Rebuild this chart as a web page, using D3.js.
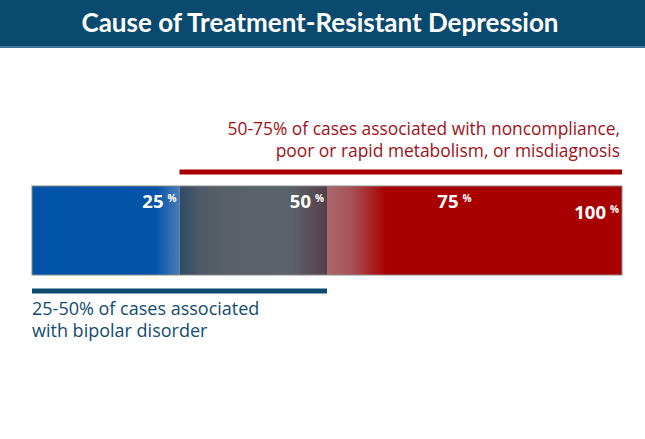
<!DOCTYPE html>
<html>
<head>
  <meta charset="utf-8">
  <title>Cause of Treatment-Resistant Depression</title>
  <script src="https://d3js.org/d3.v7.min.js"></script>
  <style>
    body { margin: 0; background: #fff; }
  </style>
</head>
<body>
  <svg id="chart"></svg>
  <script>
    // chart values
    const titleText = "Cause of Treatment-Resistant Depression";
    const segStart = [0, 25, 50];
    const segEnd = [25, 50, 100];
    const tickValues = [25, 50, 75, 100];
    const tickLabels = ["25", "50", "75", "100"];
    const bracketFrom = [25, 0];
    const bracketTo = [100, 50];
    const noteLines = [
      ["50-75% of cases associated with noncompliance,", "poor or rapid metabolism, or misdiagnosis"],
      ["25-50% of cases associated", "with bipolar disorder"]
    ];

    const width = 645, height = 439;
    const svg = d3.select("#chart").attr("width", width).attr("height", height);

    // title banner
    svg.append("rect").attr("x", 0).attr("y", 0).attr("width", width).attr("height", 47).attr("fill", "#0b4a6f");
    svg.append("rect").attr("x", 0).attr("y", 46).attr("width", width).attr("height", 2).attr("fill", "#3f7598");
    svg.append("text")
      .attr("x", 320).attr("y", 32)
      .attr("text-anchor", "middle")
      .attr("font-family", "Lato, sans-serif")
      .attr("font-weight", 700)
      .attr("font-size", 26)
      .attr("fill", "#fff")
      .text(titleText);

    const x = d3.scaleLinear().domain([0, 100]).range([32, 622]);
    const barTop = 186, barH = 89;

    // gradients for the three segments
    const gradStops = [
      [[0, "#0052a8"], [0.84, "#0454a9"], [1, "#4a7db6"]],
      [[0, "#2f4a66"], [0.15, "#4f5a67"], [0.3, "#5a6068"], [0.76, "#5b6169"], [1, "#563f49"]],
      [[0, "#aa686c"], [0.08, "#a85458"], [0.2, "#a80000"], [1, "#a80000"]]
    ];
    const defs = svg.append("defs");
    gradStops.forEach((stops, i) => {
      const g = defs.append("linearGradient").attr("id", "seg" + i)
        .attr("x1", "0%").attr("x2", "100%").attr("y1", "0%").attr("y2", "0%");
      stops.forEach(s => g.append("stop").attr("offset", s[0]).attr("stop-color", s[1]));
    });

    svg.selectAll(".seg")
      .data(segStart)
      .join("rect")
      .attr("class", "seg")
      .attr("x", (d, i) => x(d))
      .attr("y", barTop)
      .attr("width", (d, i) => x(segEnd[i]) - x(d))
      .attr("height", barH)
      .attr("fill", (d, i) => `url(#seg${i})`);

    svg.append("rect")
      .attr("x", x(0)).attr("y", barTop)
      .attr("width", x(100) - x(0)).attr("height", barH)
      .attr("fill", "none").attr("stroke", "#8a8a8a").attr("stroke-width", 1);

    // percent labels
    const lbl = svg.selectAll(".pct")
      .data(tickValues)
      .join("text")
      .attr("class", "pct")
      .attr("x", d => x(d) - 3)
      .attr("y", d => d === 100 ? 219 : 208)
      .attr("text-anchor", "end")
      .attr("font-family", "'Open Sans', sans-serif")
      .attr("font-weight", 700)
      .attr("fill", "#fff");
    lbl.append("tspan").attr("font-size", 18.5).text((d, i) => tickLabels[i]);
    lbl.append("tspan").attr("font-size", 10).attr("dx", 4).attr("dy", -6).text("%");

    // bracket lines
    const bracketColor = ["#a80000", "#0d4a70"];
    const bracketY = [172, 291];
    svg.selectAll(".bracket")
      .data(bracketFrom)
      .join("line")
      .attr("class", "bracket")
      .attr("x1", d => x(d))
      .attr("x2", (d, i) => x(bracketTo[i]))
      .attr("y1", (d, i) => bracketY[i])
      .attr("y2", (d, i) => bracketY[i])
      .attr("stroke", (d, i) => bracketColor[i])
      .attr("stroke-width", 5);

    // notes
    const noteX = [620, 32];
    const noteY = [135, 315];
    const noteSize = [17.4, 18];
    const noteAnchor = ["end", "start"];
    const noteColor = ["#a0121a", "#134b6e"];
    noteLines.forEach((lines, i) => {
      svg.append("text")
        .attr("x", noteX[i])
        .attr("y", noteY[i])
        .attr("text-anchor", noteAnchor[i])
        .attr("font-family", "'Open Sans', sans-serif")
        .attr("font-size", noteSize[i])
        .attr("fill", noteColor[i])
        .selectAll("tspan")
        .data(lines)
        .join("tspan")
        .attr("x", noteX[i])
        .attr("dy", (d, j) => j === 0 ? 0 : 22)
        .text(d => d);
    });
  </script>
</body>
</html>
